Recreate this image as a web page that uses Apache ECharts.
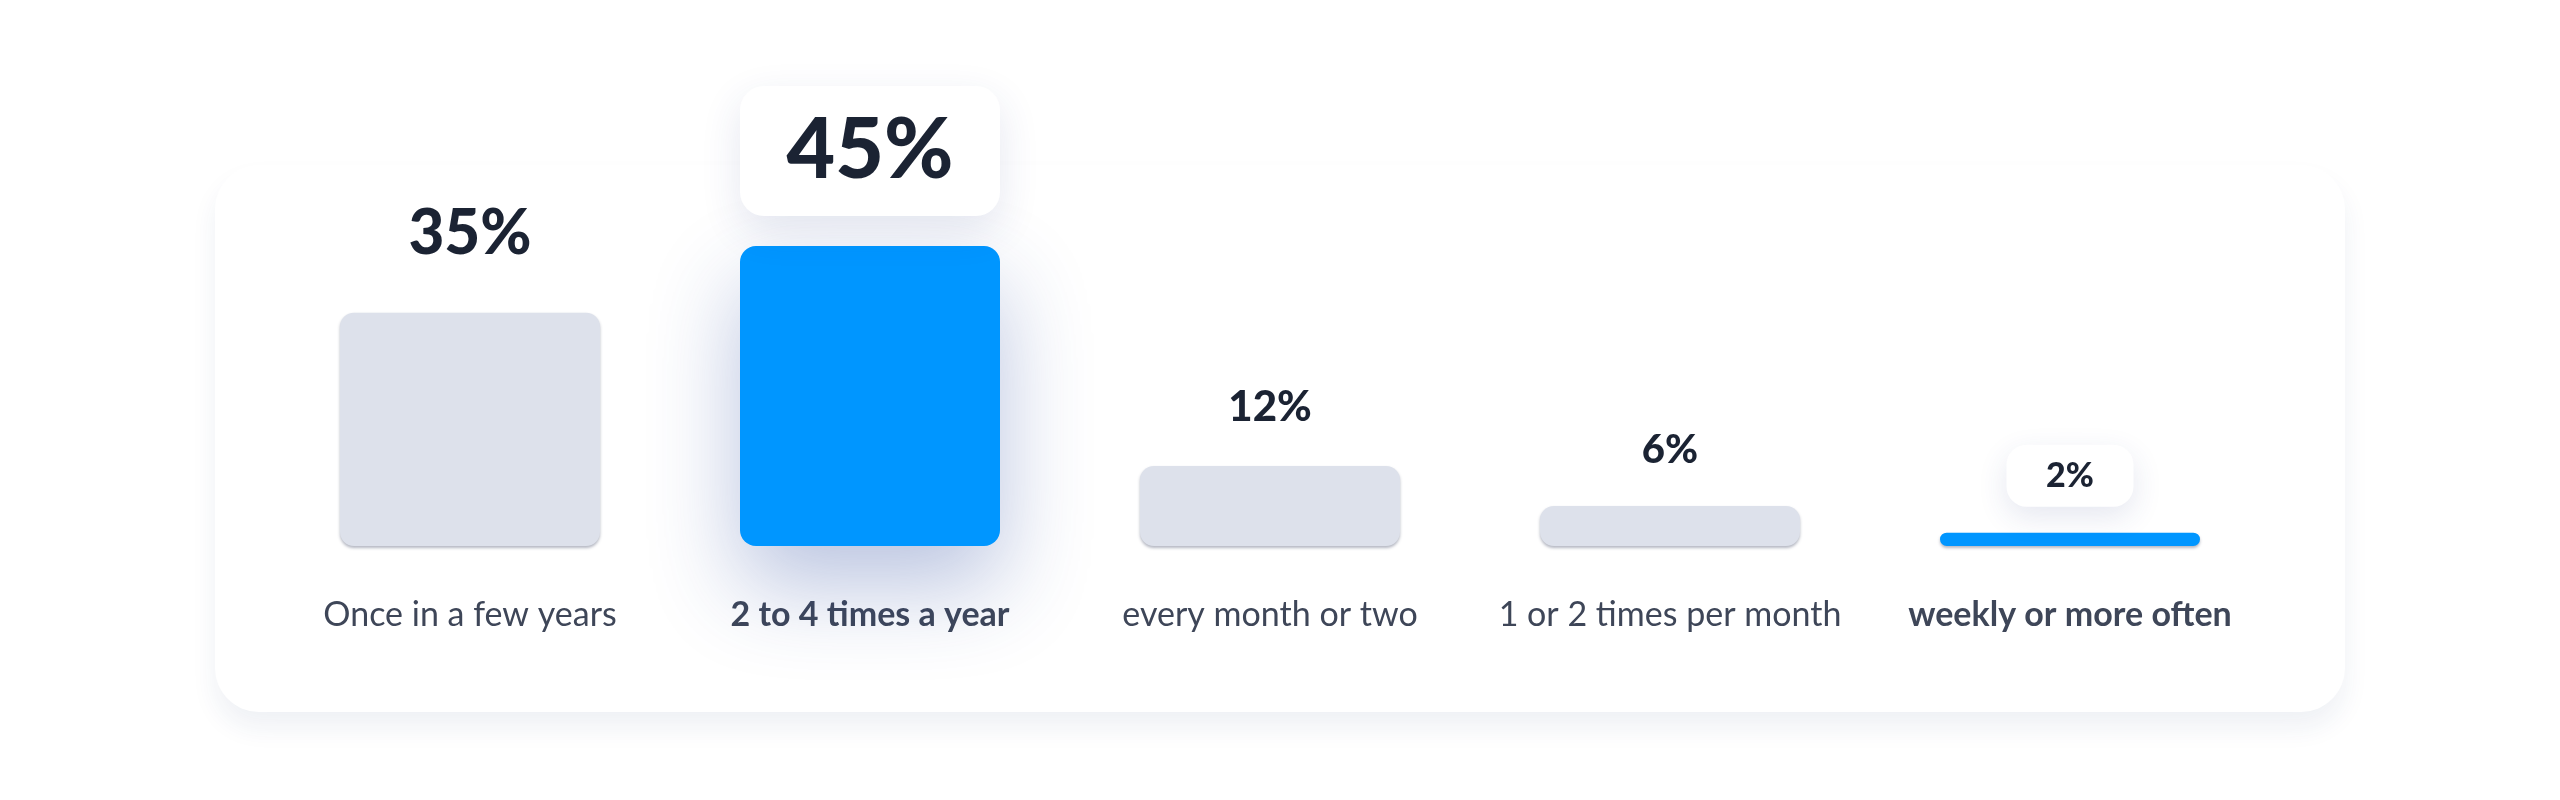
<html>
<head>
    <meta http-equiv="Content-Type" content="text/html; charset=utf-8"/>
    <title>How often</title>
    <style type="text/css">
        html, body, #chart {
            border: 0px;
            margin: 0px;
            padding: 0px;
            width: 100%;
            height: 100%;
            background: #ffffff;
        }
    </style>
    <script type="text/javascript" src="https://cdn.jsdelivr.net/npm/echarts@6/dist/echarts.min.js"></script>
    <script type="text/javascript">
        // data
        var categories = ['Once in a few years', '2 to 4 times a year', 'every month or two', '1 or 2 times per month', 'weekly or more often'];
        var shares = [35, 45, 12, 6, 2];
        var highlighted = [1, 4];

        // label looks per bar
        var labelSizes = [62, 84, 42, 40, 34];
        var labelGaps = [48, 30, 38, 36, 26];

        function init() {
            var chart = echarts.init(document.getElementById('chart'));

            var xData = categories.map(function (c, i) {
                var item = {value: c};
                if (highlighted.indexOf(i) >= 0) {
                    item.textStyle = {fontWeight: 'bold'};
                }
                return item;
            });

            var barData = shares.map(function (v, i) {
                var hi = highlighted.indexOf(i) >= 0;
                var item = {
                    value: v,
                    itemStyle: {
                        color: hi ? '#0096ff' : '#dde1eb',
                        borderRadius: 14,
                        shadowColor: 'rgba(40, 50, 80, 0.35)',
                        shadowBlur: 3,
                        shadowOffsetY: 2
                    },
                    label: {
                        show: true,
                        position: 'top',
                        distance: labelGaps[i],
                        fontSize: labelSizes[i],
                        lineHeight: labelSizes[i],
                        fontWeight: 900
                    }
                };
                if (i === 1) {
                    // big blue bar with the soft glow and boxed label
                    item.itemStyle.shadowColor = 'rgba(40, 70, 160, 0.32)';
                    item.itemStyle.shadowBlur = 90;
                    item.itemStyle.shadowOffsetY = 40;
                    item.itemStyle.borderRadius = 16;
                    item.label.backgroundColor = '#ffffff';
                    item.label.width = 260;
                    item.label.padding = [23, 0];
                    item.label.borderRadius = 24;
                    item.label.shadowColor = 'rgba(40, 60, 130, 0.12)';
                    item.label.shadowBlur = 40;
                    item.label.shadowOffsetY = 14;
                }
                if (i === 4) {
                    item.label.backgroundColor = '#ffffff';
                    item.label.width = 127;
                    item.label.padding = [14, 0];
                    item.label.borderRadius = 20;
                    item.label.shadowColor = 'rgba(40, 60, 130, 0.12)';
                    item.label.shadowBlur = 30;
                    item.label.shadowOffsetY = 10;
                }
                return item;
            });

            var option = {
                backgroundColor: '#ffffff',
                textStyle: {fontFamily: 'Lato'},
                graphic: [{
                    type: 'rect',
                    z: 0,
                    silent: true,
                    shape: {x: 215, y: 165, width: 2130, height: 547, r: 44},
                    style: {
                        fill: '#ffffff',
                        shadowColor: 'rgba(30, 50, 120, 0.07)',
                        shadowBlur: 26,
                        shadowOffsetY: 16
                    }
                }],
                grid: {
                    left: 270,
                    right: 290,
                    top: 146,
                    bottom: 254
                },
                xAxis: {
                    type: 'category',
                    data: xData,
                    axisLine: {show: false},
                    axisTick: {show: false},
                    axisLabel: {
                        interval: 0,
                        margin: 52,
                        fontSize: 34,
                        color: '#3e4658',
                        fontFamily: 'Lato'
                    }
                },
                yAxis: {
                    type: 'value',
                    min: 0,
                    max: 60,
                    show: false,
                    splitLine: {show: false}
                },
                series: [{
                    type: 'bar',
                    barWidth: 260,
                    z: 2,
                    label: {
                        color: '#1b2333',
                        fontFamily: 'Lato',
                        formatter: '{c}%'
                    },
                    data: barData
                }]
            };
            chart.setOption(option);
        }
    </script>
</head>
<body onLoad="init()">
<div id="chart"></div>
</body>
</html>
